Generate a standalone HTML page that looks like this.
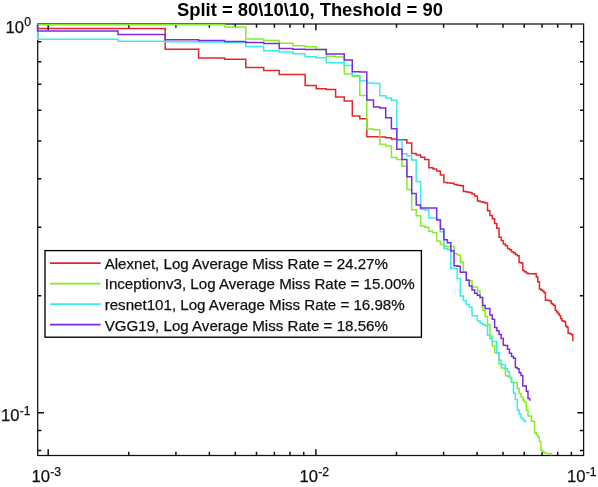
<!DOCTYPE html>
<html><head><meta charset="utf-8"><title>plot</title>
<style>html,body{margin:0;padding:0;background:#fff}body{width:598px;height:487px;overflow:hidden;position:relative}svg text{font-family:"Liberation Sans",sans-serif}</style></head>
<body>
<svg width="598" height="487" viewBox="0 0 598 487" style="position:absolute;left:0;top:0">
<rect width="598" height="487" fill="#fff"/>
<g fill="none" stroke-linejoin="miter">
<polyline stroke="#E62429" stroke-width="1.5" points="37.6,24.2 37.6,28.4 118.0,28.4 118.0,28.5 165.2,28.5 165.2,49.3 198.6,49.3 198.6,58.1 224.6,58.1 224.6,59.3 245.8,59.3 245.8,67.5 263.7,67.5 263.7,70.6 279.2,70.6 279.2,74.5 292.9,74.5 305.1,74.5 305.1,85.6 316.2,85.6 316.2,88.8 326.3,88.8 326.3,89.6 335.6,89.6 335.6,97.0 344.3,97.0 344.3,101.0 352.3,101.0 352.3,116.0 359.8,116.0 359.8,118.7 366.8,118.7 366.8,136.7 373.5,136.7 379.8,136.7 379.8,137.1 385.7,137.1 385.7,137.8 391.4,137.8 391.4,138.9 396.8,138.9 396.8,139.7 402.0,139.7 406.9,139.7 406.9,142.9 411.7,142.9 411.7,153.4 416.2,153.4 416.2,154.9 420.6,154.9 420.6,157.2 424.8,157.2 424.8,159.5 428.9,159.5 428.9,167.8 432.9,167.8 432.9,168.9 436.7,168.9 436.7,171.1 440.4,171.1 440.4,174.9 443.9,174.9 443.9,182.6 447.4,182.6 447.4,183.0 450.8,183.0 450.8,183.3 454.1,183.3 454.1,184.6 457.2,184.6 457.2,185.2 460.3,185.2 460.3,185.8 463.4,185.8 463.4,191.6 466.3,191.6 466.3,192.0 469.2,192.0 469.2,192.5 472.0,192.5 472.0,194.0 474.7,194.0 474.7,196.1 477.4,196.1 477.4,201.1 480.0,201.1 480.0,201.7 482.6,201.7 482.6,202.3 485.1,202.3 485.1,203.0 487.5,203.0 487.5,210.8 489.9,210.8 489.9,215.5 492.3,215.5 492.3,218.8 494.6,218.8 494.6,223.5 496.8,223.5 496.8,228.2 499.0,228.2 499.0,237.2 501.2,237.2 501.2,240.6 503.3,240.6 503.3,243.9 505.4,243.9 505.4,245.7 507.5,245.7 507.5,248.4 509.5,248.4 509.5,249.7 511.5,249.7 511.5,251.7 513.5,251.7 513.5,253.1 515.4,253.1 515.4,254.4 517.3,254.4 517.3,255.7 519.1,255.7 519.1,262.4 521.0,262.4 521.0,263.1 522.8,263.1 522.8,270.5 524.5,270.5 524.5,271.8 526.3,271.8 526.3,273.1 528.0,273.1 528.0,273.8 529.7,273.8 531.4,273.8 533.0,273.8 534.6,273.8 534.6,274.0 536.3,274.0 536.3,277.1 537.8,277.1 537.8,281.8 539.4,281.8 539.4,289.1 540.9,289.1 540.9,290.1 542.5,290.1 542.5,291.1 544.0,291.1 544.0,292.8 545.4,292.8 545.4,300.0 546.9,300.0 546.9,300.3 548.3,300.3 548.3,300.5 549.8,300.5 549.8,301.0 551.2,301.0 551.2,303.6 552.6,303.6 552.6,304.5 553.9,304.5 553.9,305.6 555.3,305.6 555.3,310.3 556.6,310.3 556.6,311.9 558.0,311.9 558.0,313.4 559.3,313.4 559.3,315.5 560.6,315.5 560.6,318.5 561.9,318.5 561.9,320.7 563.1,320.7 563.1,321.1 564.4,321.1 564.4,321.8 565.6,321.8 565.6,326.0 566.9,326.0 566.9,327.3 568.1,327.3 568.1,333.3 569.3,333.3 569.3,333.6 570.5,333.6 570.5,333.9 571.7,333.9 571.7,334.8 572.8,334.8 572.8,341.2"/>
</g>
<g stroke="#111" stroke-width="1.25" fill="none">
<rect x="37.7" y="24.0" width="545.9" height="431.5"/>
<path stroke-width="1.5" d="M48.2,455.5v-6.3M48.2,24.0v6.3M128.8,455.5v-3.7M128.8,24.0v3.7M175.9,455.5v-3.7M175.9,24.0v3.7M209.4,455.5v-3.7M209.4,24.0v3.7M235.3,455.5v-3.7M235.3,24.0v3.7M256.5,455.5v-3.7M256.5,24.0v3.7M274.4,455.5v-3.7M274.4,24.0v3.7M290.0,455.5v-3.7M290.0,24.0v3.7M303.7,455.5v-3.7M303.7,24.0v3.7M315.9,455.5v-6.3M315.9,24.0v6.3M396.5,455.5v-3.7M396.5,24.0v3.7M443.6,455.5v-3.7M443.6,24.0v3.7M477.1,455.5v-3.7M477.1,24.0v3.7M503.0,455.5v-3.7M503.0,24.0v3.7M524.2,455.5v-3.7M524.2,24.0v3.7M542.1,455.5v-3.7M542.1,24.0v3.7M557.7,455.5v-3.7M557.7,24.0v3.7M571.4,455.5v-3.7M571.4,24.0v3.7M37.7,41.8h3.7M583.6,41.8h-3.7M37.7,61.7h3.7M583.6,61.7h-3.7M37.7,84.2h3.7M583.6,84.2h-3.7M37.7,110.2h3.7M583.6,110.2h-3.7M37.7,141.0h3.7M583.6,141.0h-3.7M37.7,178.7h3.7M583.6,178.7h-3.7M37.7,227.2h3.7M583.6,227.2h-3.7M37.7,295.7h3.7M583.6,295.7h-3.7M37.7,412.7h6.3M583.6,412.7h-6.3M37.7,430.5h3.7M583.6,430.5h-3.7M37.7,450.4h3.7M583.6,450.4h-3.7"/>
</g>
<g fill="none" stroke-linejoin="miter">
<polyline stroke="#88EC28" stroke-width="1.5" points="37.6,24.2 37.6,24.7 118.0,24.7 165.2,24.7 198.6,24.7 224.6,24.7 224.6,26.9 245.8,26.9 245.8,39.0 263.7,39.0 263.7,40.4 279.2,40.4 279.2,43.2 292.9,43.2 292.9,45.7 305.1,45.7 305.1,46.8 316.2,46.8 316.2,49.4 326.3,49.4 326.3,56.3 335.6,56.3 335.6,57.1 344.3,57.1 344.3,74.1 352.3,74.1 352.3,76.4 359.8,76.4 359.8,95.6 366.8,95.6 366.8,128.9 373.5,128.9 373.5,129.7 379.8,129.7 379.8,144.2 385.7,144.2 385.7,146.0 391.4,146.0 391.4,157.5 396.8,157.5 396.8,159.5 402.0,159.5 402.0,166.2 406.9,166.2 406.9,189.5 411.7,189.5 411.7,209.8 416.2,209.8 416.2,215.8 420.6,215.8 420.6,225.9 424.8,225.9 424.8,227.3 428.9,227.3 428.9,231.2 432.9,231.2 432.9,232.8 436.7,232.8 436.7,240.9 440.4,240.9 440.4,244.6 443.9,244.6 443.9,246.2 447.4,246.2 447.4,246.4 450.8,246.4 454.1,246.4 454.1,253.5 457.2,253.5 457.2,255.1 460.3,255.1 460.3,262.3 463.4,262.3 463.4,272.3 466.3,272.3 466.3,280.2 469.2,280.2 469.2,280.8 472.0,280.8 472.0,287.0 474.7,287.0 477.4,287.0 477.4,291.0 480.0,291.0 480.0,297.4 482.6,297.4 482.6,310.3 485.1,310.3 485.1,316.5 487.5,316.5 487.5,324.5 489.9,324.5 489.9,335.9 492.3,335.9 492.3,346.0 494.6,346.0 494.6,352.8 496.8,352.8 499.0,352.8 499.0,364.0 501.2,364.0 501.2,367.9 503.3,367.9 505.4,367.9 505.4,375.7 507.5,375.7 507.5,376.3 509.5,376.3 509.5,377.5 511.5,377.5 511.5,382.5 513.5,382.5 513.5,382.8 515.4,382.8 517.3,382.8 517.3,388.5 519.1,388.5 519.1,393.5 521.0,393.5 521.0,397.0 522.8,397.0 522.8,400.0 524.5,400.0 524.5,402.0 526.3,402.0 526.3,410.2 528.0,410.2 528.0,416.0 529.7,416.0 531.4,416.0 531.4,421.0 533.0,421.0 533.0,421.4 534.6,421.4 534.6,432.8 536.3,432.8 536.3,434.8 537.8,434.8 537.8,436.8 539.4,436.8 539.4,441.5 540.9,441.5 540.9,450.2 542.5,450.2 542.5,451.8 544.0,451.8 544.0,452.6 545.4,452.6 545.4,453.5 546.9,453.5 548.3,453.5 549.8,453.5 551.2,453.5 551.2,455.3"/>
<polyline stroke="#3AEBEB" stroke-width="1.5" points="37.6,24.2 37.6,39.3 118.0,39.3 118.0,41.3 165.2,41.3 165.2,41.8 198.6,41.8 198.6,42.1 224.6,42.1 224.6,42.6 245.8,42.6 245.8,46.5 263.7,46.5 263.7,50.7 279.2,50.7 279.2,52.1 292.9,52.1 292.9,53.8 305.1,53.8 305.1,56.7 316.2,56.7 316.2,57.8 326.3,57.8 326.3,62.7 335.6,62.7 344.3,62.7 344.3,65.4 352.3,65.4 352.3,75.5 359.8,75.5 359.8,80.8 366.8,80.8 366.8,83.1 373.5,83.1 373.5,83.5 379.8,83.5 379.8,95.8 385.7,95.8 385.7,97.9 391.4,97.9 391.4,100.3 396.8,100.3 396.8,140.6 402.0,140.6 402.0,153.7 406.9,153.7 406.9,156.1 411.7,156.1 411.7,160.1 416.2,160.1 416.2,181.5 420.6,181.5 420.6,209.2 424.8,209.2 424.8,210.0 428.9,210.0 428.9,217.9 432.9,217.9 436.7,217.9 436.7,219.5 440.4,219.5 440.4,231.7 443.9,231.7 443.9,248.6 447.4,248.6 447.4,249.6 450.8,249.6 450.8,268.5 454.1,268.5 457.2,268.5 457.2,278.6 460.3,278.6 460.3,295.9 463.4,295.9 463.4,300.4 466.3,300.4 466.3,304.5 469.2,304.5 469.2,307.1 472.0,307.1 472.0,315.8 474.7,315.8 477.4,315.8 477.4,320.9 480.0,320.9 480.0,323.0 482.6,323.0 482.6,324.5 485.1,324.5 485.1,325.7 487.5,325.7 487.5,335.0 489.9,335.0 489.9,338.8 492.3,338.8 492.3,341.4 494.6,341.4 496.8,341.4 496.8,352.7 499.0,352.7 499.0,360.1 501.2,360.1 501.2,364.7 503.3,364.7 505.4,364.7 505.4,368.8 507.5,368.8 507.5,371.4 509.5,371.4 509.5,377.5 511.5,377.5 511.5,382.3 513.5,382.3 513.5,393.3 515.4,393.3 515.4,399.4 517.3,399.4 517.3,410.2 519.1,410.2 519.1,414.0 521.0,414.0 521.0,418.0 522.8,418.0 522.8,419.7 524.5,419.7 524.5,421.4 526.3,421.4"/>
<polyline stroke="#7A2DE0" stroke-width="1.5" points="37.6,24.2 37.6,30.9 118.0,30.9 118.0,34.6 165.2,34.6 165.2,39.7 198.6,39.7 198.6,40.6 224.6,40.6 224.6,41.5 245.8,41.5 245.8,42.4 263.7,42.4 263.7,43.6 279.2,43.6 279.2,48.6 292.9,48.6 292.9,49.3 305.1,49.3 305.1,49.4 316.2,49.4 326.3,49.4 326.3,54.1 335.6,54.1 344.3,54.1 344.3,60.1 352.3,60.1 352.3,71.7 359.8,71.7 359.8,72.1 366.8,72.1 366.8,100.1 373.5,100.1 373.5,106.9 379.8,106.9 379.8,107.9 385.7,107.9 385.7,117.7 391.4,117.7 391.4,128.8 396.8,128.8 396.8,149.2 402.0,149.2 402.0,159.5 406.9,159.5 406.9,176.8 411.7,176.8 411.7,193.5 416.2,193.5 416.2,205.1 420.6,205.1 420.6,208.1 424.8,208.1 428.9,208.1 432.9,208.1 436.7,208.1 436.7,220.0 440.4,220.0 440.4,229.1 443.9,229.1 443.9,239.7 447.4,239.7 447.4,242.8 450.8,242.8 450.8,251.1 454.1,251.1 454.1,265.8 457.2,265.8 457.2,266.2 460.3,266.2 460.3,272.3 463.4,272.3 466.3,272.3 466.3,280.2 469.2,280.2 469.2,286.0 472.0,286.0 472.0,290.1 474.7,290.1 474.7,293.3 477.4,293.3 477.4,295.2 480.0,295.2 480.0,297.4 482.6,297.4 482.6,305.4 485.1,305.4 485.1,308.5 487.5,308.5 489.9,308.5 489.9,315.1 492.3,315.1 492.3,319.2 494.6,319.2 494.6,327.5 496.8,327.5 496.8,330.7 499.0,330.7 499.0,334.6 501.2,334.6 501.2,338.5 503.3,338.5 503.3,345.3 505.4,345.3 505.4,345.4 507.5,345.4 507.5,349.3 509.5,349.3 509.5,353.3 511.5,353.3 511.5,356.6 513.5,356.6 513.5,358.3 515.4,358.3 515.4,367.4 517.3,367.4 517.3,368.8 519.1,368.8 519.1,372.8 521.0,372.8 521.0,375.5 522.8,375.5 522.8,386.0 524.5,386.0 526.3,386.0 526.3,391.3 528.0,391.3 528.0,398.6 529.7,398.6 529.7,400.8"/>
</g>
<rect x="45" y="250.6" width="376.4" height="86.6" fill="#fff" stroke="#000" stroke-width="1.35"/>
<line x1="50" x2="100.7" y1="263.1" y2="263.1" stroke="#E62429" stroke-width="1.7"/>
<text x="104.7" y="268.7" font-size="15.12" fill="#111" stroke="#111" stroke-width="0.25">Alexnet, Log Average Miss Rate = 24.27%</text>
<line x1="50" x2="100.7" y1="283.6" y2="283.6" stroke="#88EC28" stroke-width="1.7"/>
<text x="104.7" y="289.3" font-size="15.12" fill="#111" stroke="#111" stroke-width="0.25">Inceptionv3, Log Average Miss Rate = 15.00%</text>
<line x1="50" x2="100.7" y1="304.1" y2="304.1" stroke="#3AEBEB" stroke-width="1.7"/>
<text x="104.7" y="310.2" font-size="15.12" fill="#111" stroke="#111" stroke-width="0.25">resnet101, Log Average Miss Rate = 16.98%</text>
<line x1="50" x2="100.7" y1="324.6" y2="324.6" stroke="#7A2DE0" stroke-width="1.7"/>
<text x="104.7" y="331.1" font-size="15.12" fill="#111" stroke="#111" stroke-width="0.25">VGG19, Log Average Miss Rate = 18.56%</text>
<text x="309.9" y="15.5" font-size="18.42" font-weight="bold" text-anchor="middle" fill="#000">Split = 80\10\10, Theshold = 90</text>
<text x="5.6" y="32.8" font-size="16.67" fill="#111" stroke="#111" stroke-width="0.25">10<tspan font-size="12.2" dy="-6.5" dx="0.2">0</tspan></text>
<text x="0.9" y="421.4" font-size="16.67" fill="#111" stroke="#111" stroke-width="0.25">10<tspan font-size="12.2" dy="-6.5" dx="0.2">-1</tspan></text>
<text x="31.5" y="482.2" font-size="16.67" fill="#111" stroke="#111" stroke-width="0.25">10<tspan font-size="12.2" dy="-6.5" dx="0.2">-3</tspan></text>
<text x="299.5" y="482.2" font-size="16.67" fill="#111" stroke="#111" stroke-width="0.25">10<tspan font-size="12.2" dy="-6.5" dx="0.2">-2</tspan></text>
<text x="567" y="482.2" font-size="16.67" fill="#111" stroke="#111" stroke-width="0.25">10<tspan font-size="12.2" dy="-6.5" dx="0.2">-1</tspan></text>
</svg>
</body></html>
